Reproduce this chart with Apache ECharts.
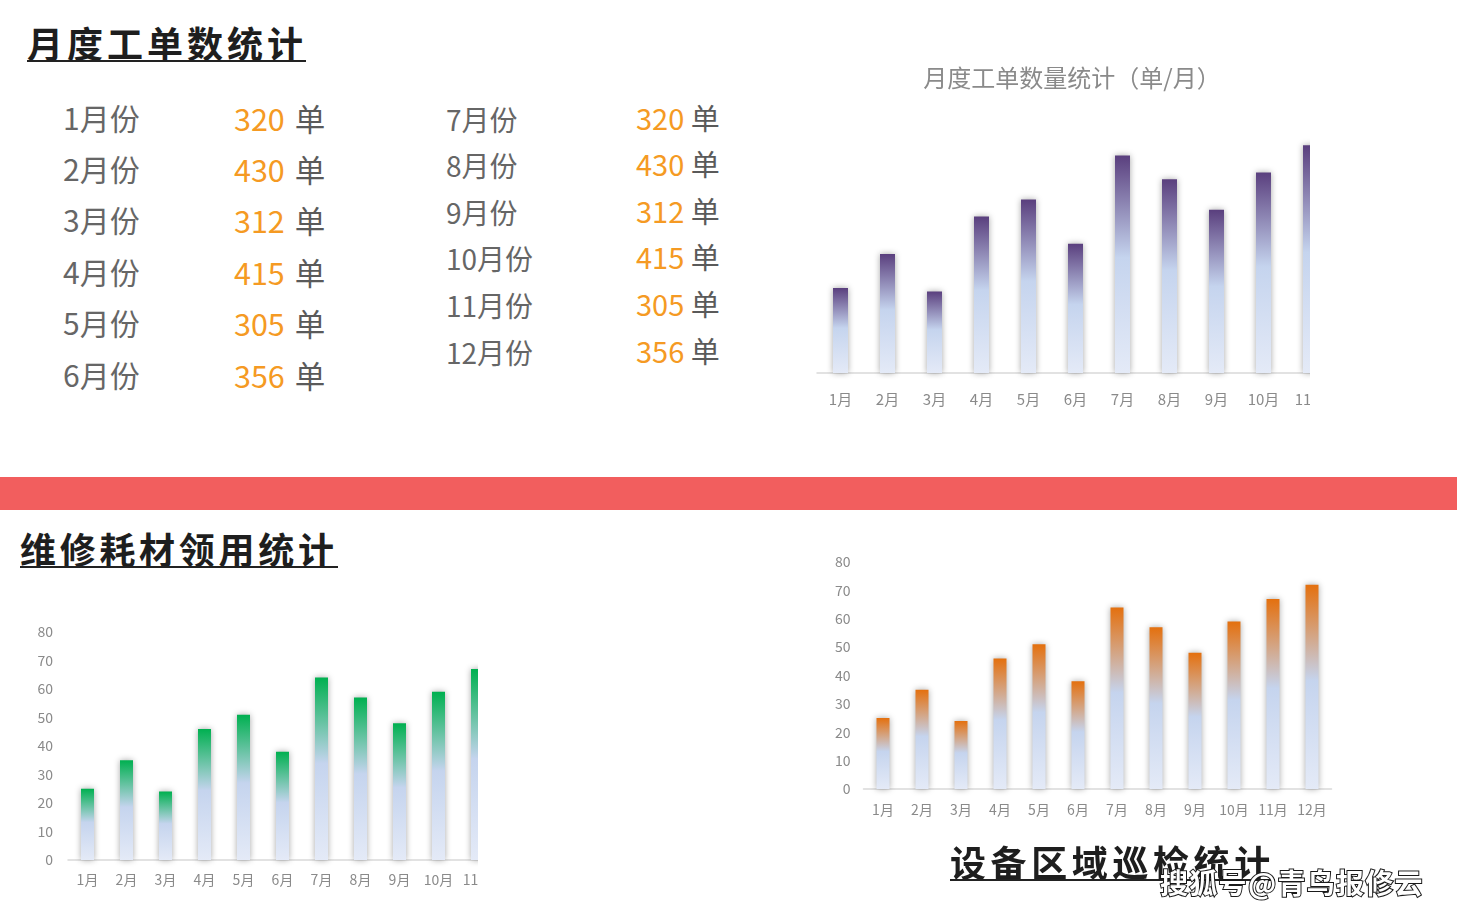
<!DOCTYPE html>
<html>
<head>
<meta charset="utf-8">
<script src="https://cdn.jsdelivr.net/npm/echarts@6/dist/echarts.min.js"></script>
<style>
  html, body { margin:0; padding:0; background:#fff; width:1457px; height:917px; overflow:hidden;
    font-family:"Noto Sans CJK SC","Noto Sans",sans-serif; }
  .title { position:absolute; font-size:36px; font-weight:700; color:#1e1e1e; letter-spacing:4px; line-height:36px; white-space:nowrap; }
  .uline { position:absolute; height:2px; background:#222; }
  .clip { position:absolute; overflow:hidden; }
  .row { position:absolute; white-space:nowrap; }
  .mon { color:#666; }
  .num { color:#f59a23; }
  .dan { color:#5a5a5a; margin-left:3px; }
  #listR2 .dan { margin-left:0; }
  #band { position:absolute; left:0; top:477px; width:1457px; height:33px; background:#f25e5e; }
  #wm { position:absolute; left:1160px; top:866px; font-size:28px; line-height:32px; color:#fff; font-weight:bold;
    -webkit-text-stroke:2px #1a1a1a; paint-order:stroke fill; letter-spacing:1.3px; white-space:nowrap; }
</style>
</head>
<body>
<div class="title" style="left:27px;top:24px;">月度工单数统计</div>
<div class="uline" style="left:27px;top:60px;width:279px;"></div>

<div id="listL1"></div><div id="listL2"></div><div id="listR1"></div><div id="listR2"></div>

<div class="clip" style="left:800px;top:40px;width:510px;height:390px;">
  <div id="c1" style="width:700px;height:390px;"></div>
</div>

<div id="band"></div>

<div class="title" style="left:20px;top:530px;letter-spacing:3.7px;">维修耗材领用统计</div>
<div class="uline" style="left:20px;top:566px;width:318px;"></div>

<div class="clip" style="left:0px;top:600px;width:478px;height:300px;">
  <div id="c2" style="width:600px;height:300px;"></div>
</div>

<div class="clip" style="left:800px;top:540px;width:560px;height:300px;">
  <div id="c3" style="width:560px;height:300px;"></div>
</div>

<div class="title" style="left:950px;top:843px;letter-spacing:4.6px;">设备区域巡检统计</div>
<div class="uline" style="left:950px;top:879px;width:325px;"></div>

<div id="wm">搜狐号@青鸟报修云</div>

<script>
// ---- data ----
const months = ['1月','2月','3月','4月','5月','6月','7月','8月','9月','10月','11月','12月'];
const workOrderBars = [25, 35, 24, 46, 51, 38, 64, 57, 48, 59, 67, 72];
const materialBars = [25, 35, 24, 46, 51, 38, 64, 57, 48, 59, 67, 72];
const inspectionBars = [25, 35, 24, 46, 51, 38, 64, 57, 48, 59, 67, 72];
const yTicks = [0, 80, 10]; // min, max, interval

const listMonthsA = ['1月份','2月份','3月份','4月份','5月份','6月份'];
const listCountsA = [320, 430, 312, 415, 305, 356];
const listMonthsB = ['7月份','8月份','9月份','10月份','11月份','12月份'];
const listCountsB = [320, 430, 312, 415, 305, 356];
const unitText = '单';
const chart1Title = '月度工单数量统计（单/月）';

// ---- text lists ----
function buildList(id, items, left, top, step, size, cls) {
  const el = document.getElementById(id);
  items.forEach((t, i) => {
    const d = document.createElement('div');
    d.className = 'row';
    d.style.left = left + 'px';
    d.style.top = (top + i * step) + 'px';
    d.style.fontSize = size + 'px';
    d.style.lineHeight = step + 'px';
    d.innerHTML = cls === 'mon' ? '<span class="mon">' + t + '</span>'
      : '<span class="num">' + t + '</span> <span class="dan">' + unitText + '</span>';
    el.appendChild(d);
  });
}
buildList('listL1', listMonthsA, 63, 91.5, 51.4, 30, 'mon');
buildList('listL2', listCountsA, 234, 92.5, 51.4, 30.5, 'num');
buildList('listR1', listMonthsB, 446, 95.5, 46.6, 28, 'mon');
buildList('listR2', listCountsB, 636, 93.5, 46.6, 29, 'num');

// ---- charts ----
const FONT = '"Noto Sans CJK SC","Noto Sans",sans-serif';
function grad(top) {
  return { type:'linear', x:0, y:0, x2:0, y2:1, colorStops:[
    {offset:0, color:top}, {offset:0.47, color:'#c5d4ee'}, {offset:1, color:'#e4eaf7'} ] };
}
function makeOption(cfg) {
  return {
    animation:false,
    grid:{ left:cfg.left, top:cfg.top, width:cfg.width, height:cfg.height, containLabel:false },
    graphic: cfg.graphic || [],
    xAxis:{ type:'category', data:months,
      axisLine:{ lineStyle:{ color:'#d9d9d9', width:1.5 } }, axisTick:{ show:false },
      axisLabel:{ color:'#8a8a8a', fontSize:cfg.xfs, margin:cfg.xm, fontFamily:FONT, interval:0 } },
    yAxis:{ type:'value', min:yTicks[0], max:yTicks[1], interval:yTicks[2],
      splitLine:{ show:false }, axisLine:{ show:false }, axisTick:{ show:false },
      axisLabel:{ show:cfg.showY, color:'#8a8a8a', fontSize:14, margin:cfg.ym, fontFamily:FONT } },
    series:[{ type:'bar', data:cfg.data, barWidth:cfg.bw,
      itemStyle:{ color:grad(cfg.color), shadowBlur:6, shadowColor:'rgba(0,0,0,0.35)', shadowOffsetX:0, shadowOffsetY:0 } }]
  };
}

const c1 = echarts.init(document.getElementById('c1'), null, {renderer:'canvas'});
c1.setOption(makeOption({ left:17, top:61, width:564, height:272, xfs:15, xm:19, ym:10, showY:false,
  data:workOrderBars, bw:15, color:'#5a3f7e',
  graphic:[{ type:'text', x:272, y:38, style:{ text:chart1Title, fill:'#8a8a8a', fontSize:24,
    fontFamily:FONT, textAlign:'center', textVerticalAlign:'middle' } }] }));

const c2 = echarts.init(document.getElementById('c2'), null, {renderer:'canvas'});
c2.setOption(makeOption({ left:68, top:32, width:468, height:228, xfs:14, xm:13, ym:15, showY:true,
  data:materialBars, bw:13, color:'#00b050' }));

const c3 = echarts.init(document.getElementById('c3'), null, {renderer:'canvas'});
c3.setOption(makeOption({ left:63.5, top:22, width:468, height:227, xfs:14, xm:14, ym:13, showY:true,
  data:inspectionBars, bw:13, color:'#e4700e' }));
</script>
</body>
</html>
